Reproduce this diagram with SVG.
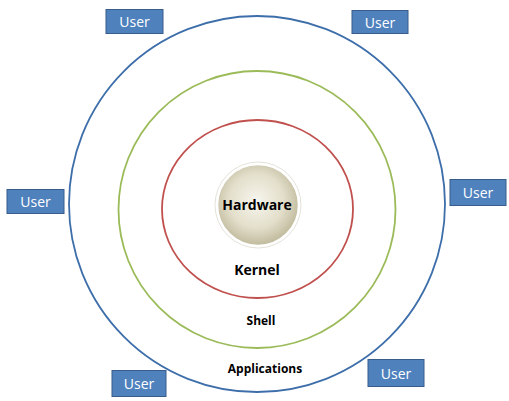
<svg xmlns="http://www.w3.org/2000/svg" width="509" height="401" viewBox="0 0 509 401">
<style>
.ring{fill:none;stroke-width:1.8}
.user rect{fill:#4f81bd;stroke:#385d8a;stroke-width:1}
.user text{fill:#fff;font-family:"Open Sans","Liberation Sans",sans-serif;font-size:14px;text-anchor:middle}
.lbl{fill:#000;font-family:"Open Sans","Liberation Sans",sans-serif;font-weight:bold;text-anchor:middle}
</style>
<defs>
<radialGradient id="hw" cx="0.48" cy="0.45" r="0.55">
<stop offset="0" stop-color="#f7f6ee"/>
<stop offset="0.6" stop-color="#e3dfcb"/>
<stop offset="1" stop-color="#bfb99b"/>
</radialGradient>
</defs>
<rect width="509" height="401" fill="#fff"/>
<g id="applications">
<circle class="ring" cx="257" cy="204" r="188" stroke="#3d6eaa"/>
<text class="lbl" x="265" y="373" font-size="12">Applications</text>
</g>
<g id="shell">
<circle class="ring" cx="257" cy="209.5" r="138.5" stroke="#9bbb59"/>
<text class="lbl" x="261" y="325" font-size="12">Shell</text>
</g>
<g id="kernel">
<ellipse class="ring" cx="257.5" cy="209" rx="95.5" ry="89" stroke="#c0504d"/>
<text class="lbl" x="257" y="275" font-size="14">Kernel</text>
</g>
<g id="hardware">
<circle cx="258" cy="205" r="41" fill="url(#hw)" stroke="#fff" stroke-width="2.5"/>
<circle cx="258" cy="205" r="43" fill="none" stroke="#e4e2da" stroke-width="1"/>
<text class="lbl" x="257" y="210" font-size="14">Hardware</text>
</g>
<g id="user-tl" class="user"><rect x="106" y="9.5" width="57" height="24"/><text x="134.5" y="27">User</text></g>
<g id="user-tr" class="user"><rect x="352" y="10.5" width="56" height="23"/><text x="380" y="27.5">User</text></g>
<g id="user-l" class="user"><rect x="7" y="189.5" width="57" height="24"/><text x="35.5" y="207">User</text></g>
<g id="user-r" class="user"><rect x="450" y="179.5" width="56" height="26"/><text x="478" y="198">User</text></g>
<g id="user-bl" class="user"><rect x="112" y="370.5" width="54" height="26"/><text x="139" y="389">User</text></g>
<g id="user-br" class="user"><rect x="368" y="359.5" width="56" height="27"/><text x="396" y="378.5">User</text></g>
<g id="connectors"></g>
</svg>
